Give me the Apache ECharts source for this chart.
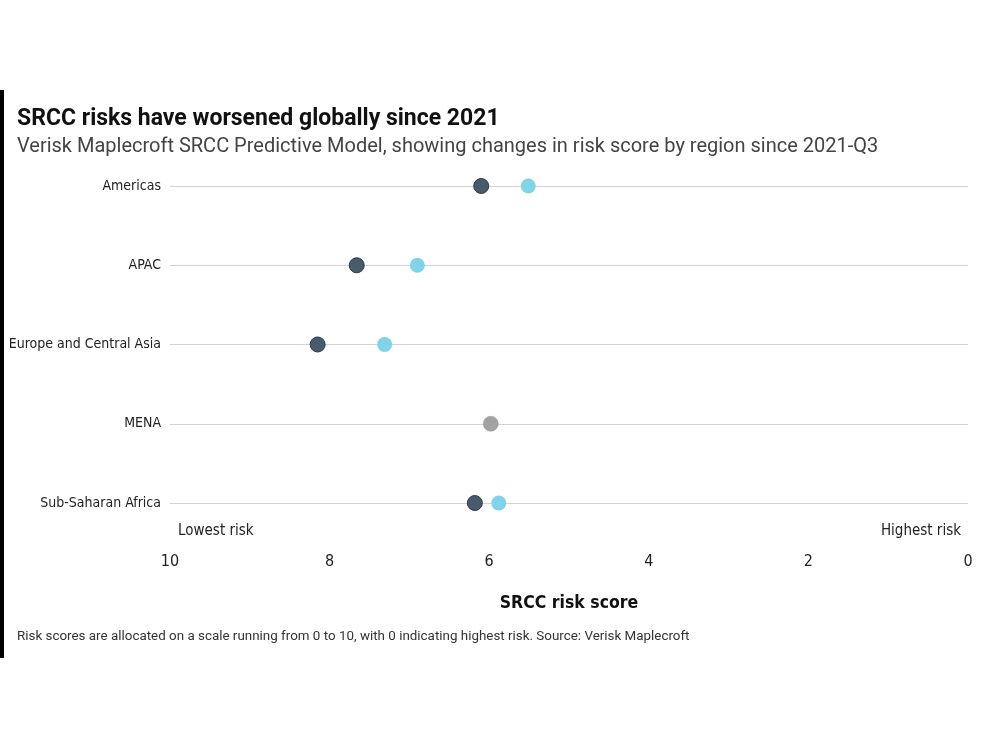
<!DOCTYPE html>
<html>
<head>
<meta charset="utf-8">
<style>html,body{margin:0;padding:0;background:#fff}#c{width:1000px;height:750px}</style>
<script src="https://cdn.jsdelivr.net/npm/echarts@6/dist/echarts.min.js"></script>
</head>
<body>
<div id="c"></div>
<script>
const regions = ['Americas', 'APAC', 'Europe and Central Asia', 'MENA', 'Sub-Saharan Africa'];
const score2021Q3 = [6.10, 7.66, 8.15, null, 6.18];
const scoreLatest = [5.51, 6.90, 7.31, null, 5.88];
const scoreUnchanged = [null, null, null, 5.98, null];
const xTicks = [0, 2, 4, 6, 8, 10];

const cond = '"DejaVu Sans Condensed", "Roboto", sans-serif';
const toData = arr => arr.map((v, i) => v == null ? null : [v, regions[i]]).filter(d => d);

const chart = echarts.init(document.getElementById('c'), null, {renderer: 'canvas'});
chart.setOption({
  animation: false,
  backgroundColor: '#fff',
  title: [
    {text: 'SRCC risks have worsened globally since 2021', left: 17, top: 108, padding: 0,
     textStyle: {fontFamily: 'Roboto', fontWeight: 'bold', fontSize: 23, color: '#111'}},
    {text: 'Verisk Maplecroft SRCC Predictive Model, showing changes in risk score by region since 2021-Q3', left: 17, top: 137, padding: 0,
     textStyle: {fontFamily: 'Roboto', fontWeight: 'normal', fontSize: 20, color: '#444'}},
    {text: 'Risk scores are allocated on a scale running from 0 to 10, with 0 indicating highest risk. Source: Verisk Maplecroft', left: 17, top: 630, padding: 0,
     textStyle: {fontFamily: 'Roboto', fontWeight: 'normal', fontSize: 13.4, color: '#333'}},
    {text: 'Lowest risk', left: 178, top: 524, padding: 0,
     textStyle: {fontFamily: cond, fontWeight: 'normal', fontSize: 15, color: '#222'}},
    {text: 'Highest risk', right: 39, top: 524, padding: 0,
     textStyle: {fontFamily: cond, fontWeight: 'normal', fontSize: 15, color: '#222'}}
  ],
  graphic: [
    {type: 'rect', shape: {x: 0, y: 90, width: 4, height: 568}, style: {fill: '#000'}}
  ],
  grid: {left: 170, right: 32, top: 186, bottom: 247, containLabel: false, outerBoundsMode: 'none'},
  xAxis: {
    type: 'value', min: 0, max: 10, interval: 2, inverse: true,
    axisLine: {show: false}, axisTick: {show: false}, splitLine: {show: false},
    axisLabel: {margin: 51, fontFamily: cond, fontSize: 16, color: '#222',
      formatter: v => xTicks.includes(v) ? String(v) : ''},
    name: 'SRCC risk score', nameLocation: 'middle', nameGap: 91,
    nameTextStyle: {fontFamily: cond, fontWeight: 'bold', fontSize: 17.5, color: '#111'}
  },
  yAxis: {
    type: 'category', data: regions, inverse: true, boundaryGap: false,
    axisLine: {show: false}, axisTick: {show: false},
    splitLine: {show: true, lineStyle: {color: '#d3d3d3', width: 1}},
    axisLabel: {margin: 9, fontFamily: cond, fontSize: 14, color: '#222'}
  },
  series: [
    {name: '2021-Q3', type: 'scatter', symbolSize: 15, data: toData(score2021Q3),
     itemStyle: {color: '#465c6c', borderColor: '#2b3a45', borderWidth: 1, opacity: 1}},
    {name: 'Latest', type: 'scatter', symbolSize: 15, data: toData(scoreLatest),
     itemStyle: {color: '#80d4ea', opacity: 1}},
    {name: 'Unchanged', type: 'scatter', symbolSize: 15, data: toData(scoreUnchanged),
     itemStyle: {color: '#a2a2a2', borderColor: '#939393', borderWidth: 0.5, opacity: 1}}
  ]
});
</script>
</body>
</html>
